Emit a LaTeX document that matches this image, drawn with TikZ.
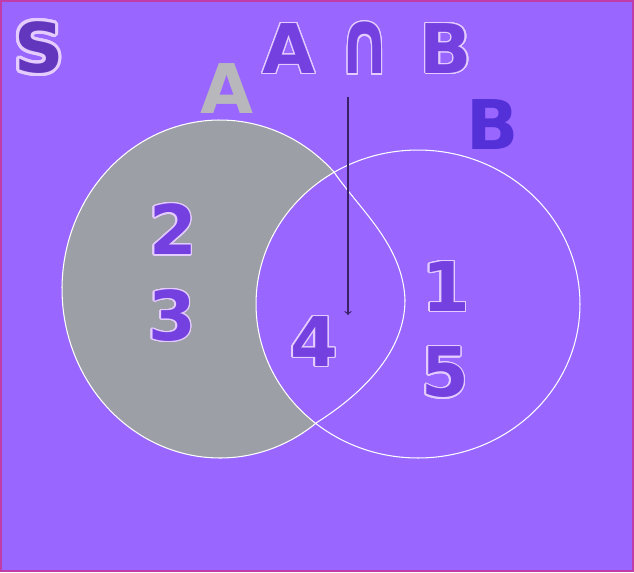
\documentclass[tikz,border=0pt]{standalone}
\usepackage{fontspec}
\setmainfont{DejaVu Sans}
\usepackage{graphicx}
\usepackage{contour}
\contournumber{24}
\definecolor{vennbg}{HTML}{9966FF}
\definecolor{frame}{HTML}{C03CA8}
\definecolor{shadeA}{HTML}{9D9FA6}
\definecolor{letterfill}{HTML}{7440E0}
\definecolor{letteredge}{HTML}{E4CCFF}
\definecolor{silver}{HTML}{B8B8BC}
\definecolor{deepblue}{HTML}{5430D8}
\definecolor{arrowcol}{HTML}{3A2266}
\begin{document}
\begin{tikzpicture}[x=0.02cm,y=-0.02cm,
    arrow/.style = {semithick,-to,draw=arrowcol},
    setline/.style = {draw=white,line width=0.6pt},
    biglab/.style = {font=\bfseries\fontsize{39}{39}\selectfont,text=letterfill,inner sep=0pt}]
    \useasboundingbox (0,0) rectangle (634,572);
    \fill[vennbg] (0,0) rectangle (634,572);
    \draw[frame,line width=0.9pt] (1,1) rectangle (633,571);

    % set A (left blob) and set B
    \fill[shadeA] plot[domain=52:316,samples=120] ({220+158*cos(\x)},{289+169*sin(\x)})
        .. controls (360,210) and (403,245) .. (405,300)
        .. controls (405,350) and (365,392) .. cycle;
    \fill[vennbg] (418,304) ellipse [x radius=3.24cm,y radius=3.08cm];
    \draw[setline] plot[domain=52:316,samples=120] ({220+158*cos(\x)},{289+169*sin(\x)})
        .. controls (360,210) and (403,245) .. (405,300)
        .. controls (405,350) and (365,392) .. cycle;
    \draw[setline] (418,304) ellipse [x radius=3.24cm,y radius=3.08cm];

    % labels
    \contourlength{1.7pt}
    \node[biglab,text=letterfill!85!black] (S) at (39,49) {\contour{letteredge}{S}};
    \contourlength{0.7pt}
    \node[biglab] (capA) at (289,49) {\contour{letteredge}{A}};
    \node[biglab] (cap) at (365,49) {\scalebox{0.95}[1.3]{\contour{letteredge}{∩}}};
    \node[biglab] (capB) at (446,49) {\contour{letteredge}{B}};
    \node[biglab,text=silver] (nameA) at (227,89) {A};
    \node[biglab,text=deepblue] (nameB) at (493,125) {B};

    \node[biglab] (two) at (173,230) {\contour{letteredge}{2}};
    \node[biglab] (three) at (172,316) {\contour{letteredge}{3}};
    \node[biglab] (four) at (314,342) {\contour{letteredge}{4}};
    \node[biglab] (one) at (446,287) {\contour{letteredge}{1}};
    \node[biglab] (five) at (445,373) {\contour{letteredge}{5}};

    % pointer into the intersection
    \coordinate (ptop) at (348,97);
    \coordinate (ptip) at (348,315);
    \draw[arrow] (ptop) -- (ptip);
\end{tikzpicture}
\end{document}
